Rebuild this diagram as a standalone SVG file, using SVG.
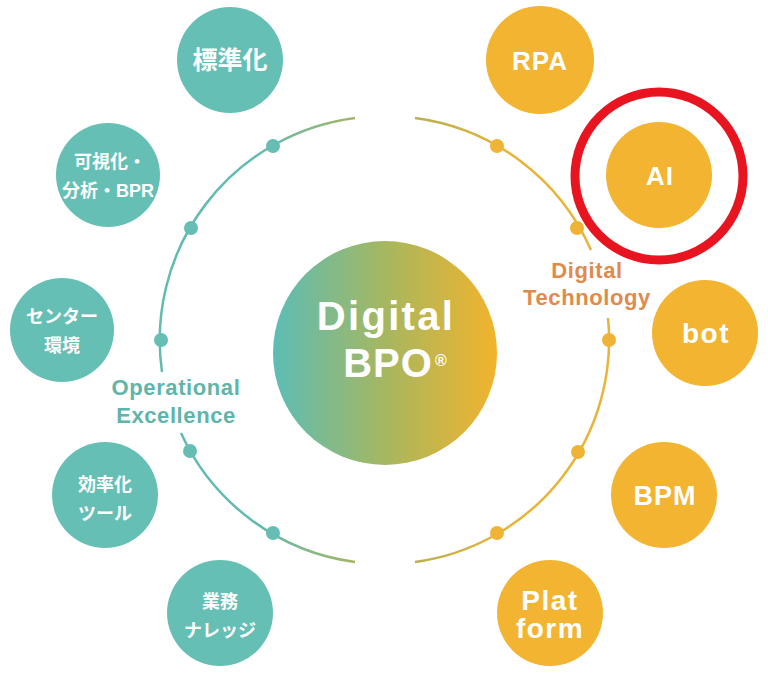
<svg xmlns="http://www.w3.org/2000/svg" width="768" height="680" viewBox="0 0 768 680">
<defs>
<linearGradient id="core" x1="0" y1="0" x2="1" y2="0">
<stop offset="0" stop-color="#5cbdb6"/>
<stop offset="0.5" stop-color="#a6b760"/>
<stop offset="1" stop-color="#f2b32c"/>
</linearGradient>
<linearGradient id="arcL" gradientUnits="userSpaceOnUse" x1="260" y1="0" x2="360" y2="0">
<stop offset="0" stop-color="#62bbb0"/>
<stop offset="1" stop-color="#a9b35e"/>
</linearGradient>
<linearGradient id="arcR" gradientUnits="userSpaceOnUse" x1="510" y1="0" x2="410" y2="0">
<stop offset="0" stop-color="#e8b438"/>
<stop offset="1" stop-color="#b7b052"/>
</linearGradient>
<style>
.t{fill:#66bfb5}
.g{fill:#f2b431}
.lbl{fill:#fff;font-family:"Liberation Sans","Noto Sans CJK JP",sans-serif;font-weight:bold;text-anchor:middle}
.jp{font-size:18px}
.en{font-size:28px;letter-spacing:1.5px}
.arcl{fill:none;stroke:url(#arcL);stroke-width:2.5}
.arcr{fill:none;stroke:url(#arcR);stroke-width:2.5}
.dl{fill:#66bdb3}
.dr{fill:#efb436}
.cap{font-family:"Liberation Sans","Noto Sans",sans-serif;font-weight:bold;font-size:22px;letter-spacing:0.6px;text-anchor:middle}
</style>
</defs>
<g id="connectors">
<path class="arcl" d="M355,118 A224,224 0 0 0 162,372"/>
<path class="arcl" d="M181,433 A224,224 0 0 0 355,562"/>
<path class="arcr" d="M415,118 A224,224 0 0 1 591,250"/>
<path class="arcr" d="M608,318 A224,224 0 0 1 415,562"/>
<circle class="dl" cx="273" cy="146" r="7"/>
<circle class="dl" cx="191" cy="228" r="7"/>
<circle class="dl" cx="161" cy="340" r="7"/>
<circle class="dl" cx="190" cy="451" r="7"/>
<circle class="dl" cx="273" cy="533" r="7"/>
<circle class="dr" cx="497" cy="146" r="7"/>
<circle class="dr" cx="577" cy="228" r="7"/>
<circle class="dr" cx="609" cy="340" r="7"/>
<circle class="dr" cx="578" cy="452" r="7"/>
<circle class="dr" cx="497" cy="533" r="7"/>
</g>
<g id="label-operational">
<text class="cap" x="176" y="395" fill="#5fb5aa">Operational</text>
<text class="cap" x="176" y="423" fill="#5fb5aa">Excellence</text>
</g>
<g id="label-digital-tech">
<text class="cap" x="587" y="278" fill="#e08a4c">Digital</text>
<text class="cap" x="587" y="305" fill="#e08a4c">Technology</text>
</g>
<g id="core-node">
<circle cx="385" cy="353" r="112" fill="url(#core)"/>
<text class="lbl" x="386" y="330" font-size="40" letter-spacing="2.3">Digital</text>
<text class="lbl" x="388" y="377" font-size="40" letter-spacing="1">BPO</text>
<text class="lbl" x="441" y="366" font-size="16">®</text>
</g>
<g id="n-hyojunka">
<circle class="t" cx="230" cy="60" r="53"/>
<text class="lbl" x="230" y="69" font-size="25">標準化</text>
</g>
<g id="n-kashika">
<circle class="t" cx="108" cy="175" r="52"/>
<text class="lbl jp" x="110" y="168">可視化・</text>
<text class="lbl jp" x="108" y="197">分析・BPR</text>
</g>
<g id="n-center">
<circle class="t" cx="62" cy="330" r="52"/>
<text class="lbl jp" x="62" y="323">センター</text>
<text class="lbl jp" x="62" y="352">環境</text>
</g>
<g id="n-kouritsu">
<circle class="t" cx="105" cy="495" r="53"/>
<text class="lbl jp" x="105" y="491">効率化</text>
<text class="lbl jp" x="105" y="520">ツール</text>
</g>
<g id="n-gyomu">
<circle class="t" cx="220" cy="613" r="53"/>
<text class="lbl jp" x="220" y="608">業務</text>
<text class="lbl jp" x="220" y="637">ナレッジ</text>
</g>
<g id="n-rpa">
<circle class="g" cx="540" cy="60" r="54"/>
<text class="lbl" x="540" y="70" font-size="26" letter-spacing="1">RPA</text>
</g>
<g id="n-ai">
<circle class="g" cx="659" cy="175" r="53"/>
<text class="lbl" x="660" y="185" font-size="26" letter-spacing="1">AI</text>
<circle cx="659" cy="176" r="84" fill="none" stroke="#e8141f" stroke-width="9"/>
</g>
<g id="n-bot">
<circle class="g" cx="705" cy="333" r="53"/>
<text class="lbl en" x="706" y="343">bot</text>
</g>
<g id="n-bpm">
<circle class="g" cx="664" cy="495" r="53"/>
<text class="lbl" x="665" y="505" font-size="27" letter-spacing="1">BPM</text>
</g>
<g id="n-platform">
<circle class="g" cx="550" cy="613" r="53"/>
<text class="lbl en" x="550" y="610">Plat</text>
<text class="lbl en" x="550" y="638">form</text>
</g>
</svg>
